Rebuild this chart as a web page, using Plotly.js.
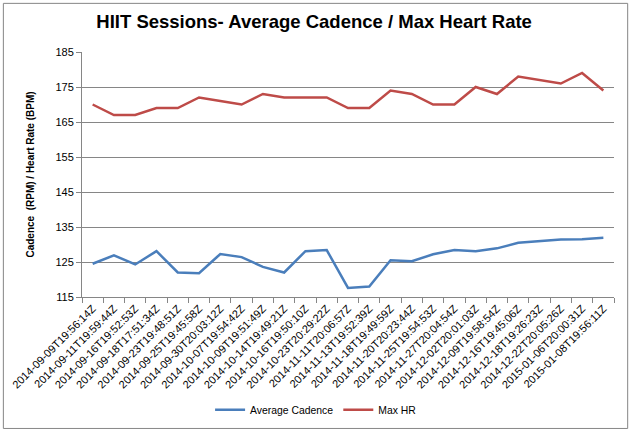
<!DOCTYPE html>
<html>
<head>
<meta charset="utf-8">
<script src="https://cdn.plot.ly/plotly-2.35.2.min.js"></script>
<style>html,body{margin:0;padding:0;background:#fff;}#chart{width:632px;height:436px;}</style>
</head>
<body>
<div id="chart"></div>
<script>
const sessions = [
  "2014-09-09T19:56:14Z","2014-09-11T19:59:44Z","2014-09-16T19:52:53Z","2014-09-18T17:51:34Z",
  "2014-09-23T19:48:51Z","2014-09-25T19:45:58Z","2014-09-30T20:03:12Z","2014-10-07T19:54:42Z",
  "2014-10-09T19:51:49Z","2014-10-14T19:49:21Z","2014-10-16T19:50:10Z","2014-10-23T20:29:22Z",
  "2014-11-11T20:06:57Z","2014-11-13T19:52:39Z","2014-11-18T19:49:59Z","2014-11-20T20:23:44Z",
  "2014-11-25T19:54:53Z","2014-11-27T20:04:54Z","2014-12-02T20:01:03Z","2014-12-09T19:58:54Z",
  "2014-12-16T19:45:06Z","2014-12-18T19:26:23Z","2014-12-22T20:05:26Z","2015-01-06T20:00:31Z",
  "2015-01-08T19:56:11Z"
];
const averageCadence = [124.5,126.9,124.3,128.1,122.0,121.8,127.3,126.4,123.6,122.0,128.1,128.4,
  117.6,118.0,125.5,125.2,127.2,128.4,128.1,128.9,130.5,130.9,131.4,131.5,131.9];
const maxHR = [170,167,167,169,169,172,171,170,173,172,172,172,169,169,174,173,170,170,175,173,178,177,176,179,174];
const yTicks = [115,125,135,145,155,165,175,185];

const font = "Liberation Sans, Arial, sans-serif";
const traces = [
  {x: sessions, y: averageCadence, name: "Average Cadence", type: "scatter", mode: "lines",
   line: {color: "#4A7EBB", width: 2.5}},
  {x: sessions, y: maxHR, name: "Max HR", type: "scatter", mode: "lines",
   line: {color: "#BE4B48", width: 2.5}}
];
const layout = {
  width: 632, height: 436,
  margin: {l: 82, r: 18, t: 52, b: 135},
  paper_bgcolor: "#fff", plot_bgcolor: "#fff",
  font: {family: font, size: 11, color: "#000"},
  title: {text: "<b>HIIT Sessions- Average Cadence / Max Heart Rate</b>",
          font: {family: font, size: 18.5, color: "#000"},
          x: 0.497, xref: "container", xanchor: "center", y: 0.95, yref: "container", yanchor: "middle"},
  showlegend: true,
  legend: {orientation: "h", x: 0.44, xanchor: "center", y: -0.46, yanchor: "middle",
           font: {family: font, size: 10.4, color: "#000"}, itemwidth: 30},
  xaxis: {type: "category", tickangle: -45, ticks: "outside", tickson: "boundaries", ticklen: 5,
          tickcolor: "#868686", showline: true, linecolor: "#868686", linewidth: 1,
          showgrid: false, zeroline: false, tickfont: {family: font, size: 11, color: "#000"},
          range: [-0.5, sessions.length - 0.5]},
  yaxis: {range: [115, 185], tickvals: yTicks, ticktext: yTicks.map(String), ticks: "outside", ticklen: 5,
          tickcolor: "#868686", showline: true, linecolor: "#868686", linewidth: 1,
          showgrid: true, gridcolor: "#868686", gridwidth: 1, zeroline: false,
          tickfont: {family: font, size: 11, color: "#000"},
          title: {text: "<b>Cadence  (RPM) / Heart Rate (BPM)</b>", font: {family: font, size: 10, color: "#000"}, standoff: 18}},
  shapes: [
    {type: "rect", xref: "paper", yref: "paper", x0: -0.1478, x1: 1.0257, y0: -0.5366, y1: 1.1985,
     line: {color: "#868686", width: 1}, fillcolor: "rgba(0,0,0,0)", layer: "below"}
  ]
};
Plotly.newPlot("chart", traces, layout, {staticPlot: true, displayModeBar: false});
</script>
</body>
</html>
